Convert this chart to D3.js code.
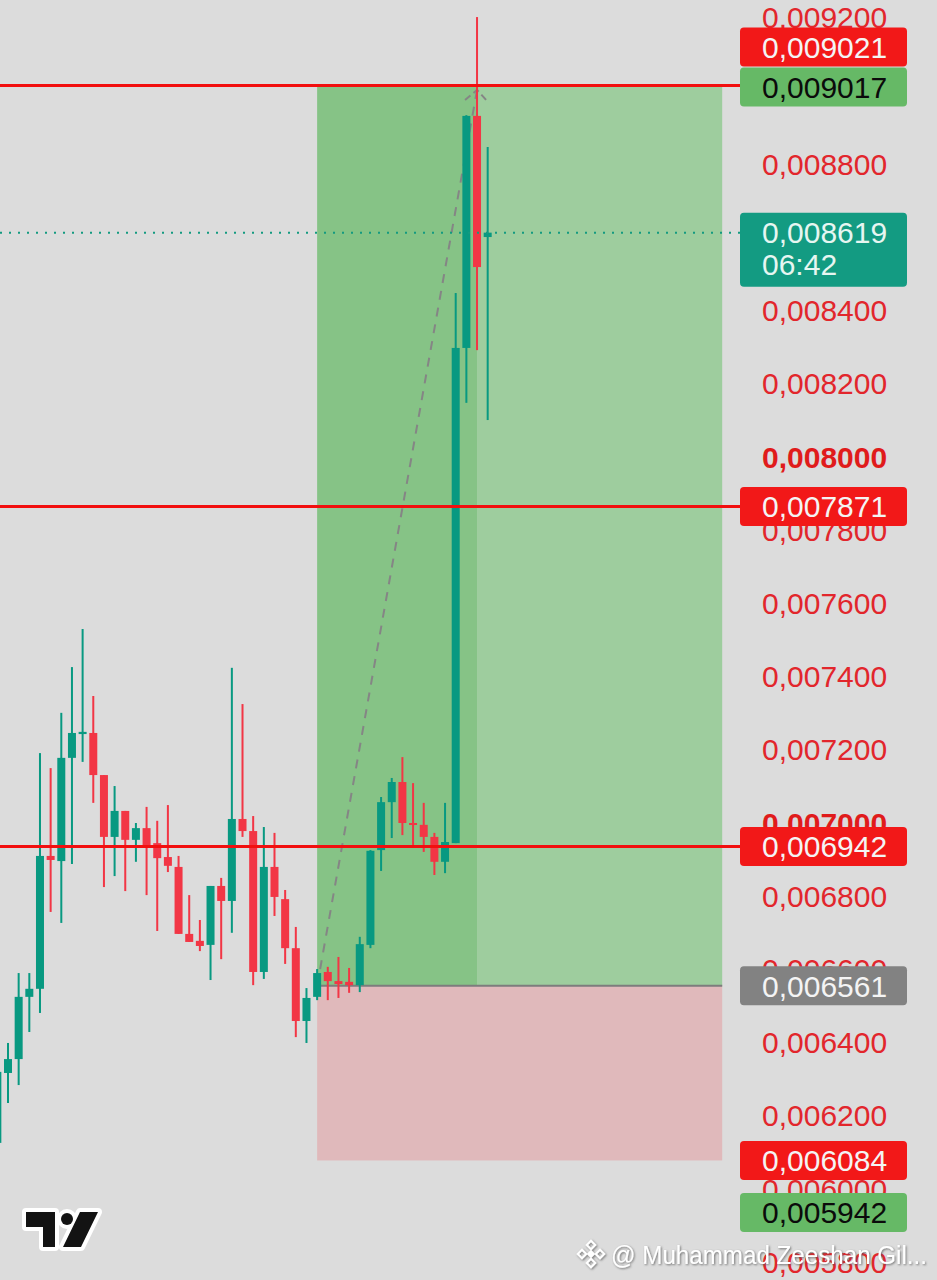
<!DOCTYPE html>
<html>
<head>
<meta charset="utf-8">
<script src="https://cdn.jsdelivr.net/npm/d3@7"></script>
<style>
  body { margin: 0; background: #dcdcdc; }
  svg { display: block; font-family: "Liberation Sans", Arial, sans-serif; }
  .tick-label { fill: #e2262c; font-size: 30px; }
  .tick-label.bold { font-weight: bold; fill: #e01b1b; }
  .box-label { font-size: 30px; }
  .watermark { fill: #ffffff; font-size: 26px; }
</style>
</head>
<body>
<svg id="chart" width="937" height="1280"></svg>
<script>
// candles, oldest first (prices)
var opens  = [0.006132, 0.006323, 0.006361, 0.006531, 0.006553, 0.006916, 0.006902, 0.007184, 0.007249, 0.007252,
              0.007137, 0.006968, 0.007039, 0.006960, 0.006992, 0.006951, 0.006913, 0.006886, 0.006703, 0.006684,
              0.006673, 0.006834, 0.006793, 0.007017, 0.006984, 0.006599, 0.006886, 0.006798, 0.006664, 0.006465,
              0.006531, 0.006599, 0.006574, 0.006572, 0.006563, 0.006673, 0.006932, 0.007063, 0.007118, 0.007006,
              0.007001, 0.006968, 0.006900, 0.006951, 0.008304, 0.008938, 0.008607];
var highs  = [0.006345, 0.006405, 0.006596, 0.006596, 0.007197, 0.007156, 0.007307, 0.007432, 0.007536, 0.007353,
              0.007137, 0.007107, 0.007039, 0.007006, 0.007050, 0.007012, 0.007055, 0.006916, 0.006809, 0.006741,
              0.006834, 0.006856, 0.007430, 0.007331, 0.007025, 0.006995, 0.006979, 0.006823, 0.006722, 0.006555,
              0.006607, 0.006613, 0.006640, 0.006610, 0.006695, 0.006932, 0.007077, 0.007129, 0.007186, 0.007115,
              0.007061, 0.006979, 0.007061, 0.008454, 0.008940, 0.009208, 0.008853];
var lows   = [0.006121, 0.006241, 0.006290, 0.006435, 0.006487, 0.006763, 0.006733, 0.006894, 0.007173, 0.007061,
              0.006831, 0.006861, 0.006820, 0.006900, 0.006809, 0.006711, 0.006872, 0.006703, 0.006681, 0.006656,
              0.006577, 0.006634, 0.006706, 0.006968, 0.006563, 0.006580, 0.006752, 0.006621, 0.006421, 0.006405,
              0.006522, 0.006522, 0.006528, 0.006542, 0.006544, 0.006664, 0.006875, 0.006965, 0.006973, 0.006946,
              0.006927, 0.006864, 0.006869, 0.006951, 0.008154, 0.008298, 0.008107];
var closes = [0.006326, 0.006361, 0.006531, 0.006553, 0.006916, 0.006905, 0.007184, 0.007252, 0.007255, 0.007137,
              0.006968, 0.007039, 0.006960, 0.006992, 0.006940, 0.006910, 0.006889, 0.006703, 0.006681, 0.006670,
              0.006834, 0.006793, 0.007017, 0.006984, 0.006599, 0.006886, 0.006804, 0.006664, 0.006465, 0.006528,
              0.006596, 0.006574, 0.006566, 0.006563, 0.006675, 0.006930, 0.007063, 0.007118, 0.007006, 0.007001,
              0.006968, 0.006900, 0.006954, 0.008304, 0.008938, 0.008525, 0.008619];

var priceTicks = [0.0092, 0.0090, 0.0088, 0.0086, 0.0084, 0.0082, 0.0080, 0.0078, 0.0076,
                  0.0074, 0.0072, 0.0070, 0.0068, 0.0066, 0.0064, 0.0062, 0.0060, 0.0058];
var boldTicks = [0.0080, 0.0070];

// horizontal lines drawn on the chart
var levelLines = [0.009021, 0.007871, 0.006942];

// long position tool
var entryPrice = 0.006561;
var targetPrice = 0.009017;
var stopPrice = 0.006084;
var positionBars = [30, 45, 68];   // start bar, current bar, end bar

var lastPrice = 0.008619;
var countdown = "06:42";

var params = {
  "svg": { "width": 937, "height": 1280 },
  "plot": { "left": 0, "right": 740, "top": 20, "bottom": 1264.4 },
  "axis": { "x": 740, "boxWidth": 167, "boxHeight": 39, "textX": 762 },
  "candle": { "body": 8, "wick": 2 },
  "colors": {
    "up": "#089981", "down": "#f23645", "line": "#f20f0f",
    "zoneDark": "#86c386", "zoneLight": "#9ecd9e", "zoneStop": "#e0b9bb"
  }
};

var scale = {
  "x": d3.scaleLinear().domain([0, 68]).range([-2.66, 722.2]),
  "y": d3.scaleLinear().domain([0.0058, 0.0092]).range([params.plot.bottom, params.plot.top])
};

var fmt = function(v) { return d3.format(".6f")(v).replace(".", ","); };

var svg = d3.select("#chart");

svg.append("rect")
  .attr("width", params.svg.width)
  .attr("height", params.svg.height)
  .attr("fill", "#dcdcdc");

var plot = svg.append("g").attr("id", "plot");

// position zones
var x0 = scale.x(positionBars[0]), x1 = scale.x(positionBars[1]), x2 = scale.x(positionBars[2]);
plot.append("rect")
  .attr("x", x0).attr("y", scale.y(targetPrice))
  .attr("width", x1 - x0).attr("height", scale.y(entryPrice) - scale.y(targetPrice))
  .attr("fill", params.colors.zoneDark);
plot.append("rect")
  .attr("x", x1).attr("y", scale.y(targetPrice))
  .attr("width", x2 - x1).attr("height", scale.y(entryPrice) - scale.y(targetPrice))
  .attr("fill", params.colors.zoneLight);
plot.append("rect")
  .attr("x", x0).attr("y", scale.y(entryPrice))
  .attr("width", x2 - x0).attr("height", scale.y(stopPrice) - scale.y(entryPrice))
  .attr("fill", params.colors.zoneStop);
plot.append("line")
  .attr("x1", x0).attr("x2", x2)
  .attr("y1", scale.y(entryPrice)).attr("y2", scale.y(entryPrice))
  .attr("stroke", "#7d7d7d").attr("stroke-width", 2);

// dashed path of the trade with arrow head
var ax = x1, ay = scale.y(targetPrice) + 3;
plot.append("line")
  .attr("x1", x0).attr("y1", scale.y(entryPrice))
  .attr("x2", ax).attr("y2", ay)
  .attr("stroke", "#858585").attr("stroke-width", 2)
  .attr("stroke-dasharray", "9 8");
plot.append("path")
  .attr("d", "M" + (ax - 12) + "," + (ay + 10) + "L" + ax + "," + ay + "L" + (ax + 11) + "," + (ay + 12))
  .attr("fill", "none")
  .attr("stroke", "#858585").attr("stroke-width", 2)
  .attr("stroke-dasharray", "7 4");

// candles
var candles = opens.map(function(o, i) {
  return { "i": i, "open": o, "high": highs[i], "low": lows[i], "close": closes[i] };
});

var bars = plot.selectAll("g.candle")
  .data(candles)
  .enter()
  .append("g")
  .attr("class", "candle");

bars.append("rect")
  .attr("x", function(d) { return scale.x(d.i) - params.candle.wick / 2; })
  .attr("y", function(d) { return scale.y(d.high); })
  .attr("width", params.candle.wick)
  .attr("height", function(d) { return scale.y(d.low) - scale.y(d.high); })
  .attr("fill", function(d) { return d.close >= d.open ? params.colors.up : params.colors.down; });

bars.append("rect")
  .attr("x", function(d) { return scale.x(d.i) - params.candle.body / 2; })
  .attr("y", function(d) { return scale.y(Math.max(d.open, d.close)); })
  .attr("width", params.candle.body)
  .attr("height", function(d) { return Math.max(2, Math.abs(scale.y(d.open) - scale.y(d.close))); })
  .attr("fill", function(d) { return d.close >= d.open ? params.colors.up : params.colors.down; });

// level lines
plot.selectAll("line.level")
  .data(levelLines)
  .enter()
  .append("line")
  .attr("class", "level")
  .attr("x1", params.plot.left).attr("x2", params.plot.right)
  .attr("y1", function(d) { return scale.y(d); })
  .attr("y2", function(d) { return scale.y(d); })
  .attr("stroke", params.colors.line)
  .attr("stroke-width", 3);

// last price dotted line
plot.append("line")
  .attr("x1", params.plot.left).attr("x2", params.plot.right)
  .attr("y1", scale.y(lastPrice)).attr("y2", scale.y(lastPrice))
  .attr("stroke", "#139a80").attr("stroke-width", 2)
  .attr("stroke-dasharray", "2 7");

// price axis tick labels
var axisG = svg.append("g").attr("id", "price-axis");
axisG.selectAll("text.tick-label")
  .data(priceTicks)
  .enter()
  .append("text")
  .attr("class", function(d) {
    return boldTicks.some(function(b) { return Math.abs(b - d) < 1e-9; }) ? "tick-label bold" : "tick-label";
  })
  .attr("x", params.axis.textX)
  .attr("y", function(d) { return scale.y(d); })
  .attr("dy", "0.28em")
  .text(fmt);

// axis boxes, placed in priority order; a box that would overlap is pushed up
var boxes = [
  { "price": targetPrice, "fill": "#66b966", "text": "#0b0b0b" },
  { "price": levelLines[0], "fill": "#f21818", "text": "#f4f4f4" },
  { "price": levelLines[1], "fill": "#f21818", "text": "#f4f4f4" },
  { "price": levelLines[2], "fill": "#f21818", "text": "#f4f4f4" },
  { "price": entryPrice, "fill": "#828282", "text": "#f4f4f4" },
  { "price": stopPrice, "fill": "#f21818", "text": "#f4f4f4" },
  { "price": 0.005942, "fill": "#66b966", "text": "#0b0b0b" }
];
var placed = [];
boxes.forEach(function(b) {
  var cy = scale.y(b.price);
  placed.forEach(function(p) {
    if (Math.abs(p.cy - cy) < params.axis.boxHeight) cy = p.cy - params.axis.boxHeight - 1;
  });
  b.cy = cy;
  placed.push(b);
});

var boxG = axisG.selectAll("g.box")
  .data(boxes)
  .enter()
  .append("g")
  .attr("class", "box")
  .attr("transform", function(d) { return "translate(" + params.axis.x + "," + d.cy + ")"; });

boxG.append("rect")
  .attr("x", 0).attr("y", -params.axis.boxHeight / 2)
  .attr("width", params.axis.boxWidth).attr("height", params.axis.boxHeight)
  .attr("rx", 4)
  .attr("fill", function(d) { return d.fill; });

boxG.append("text")
  .attr("class", "box-label")
  .attr("x", params.axis.textX - params.axis.x)
  .attr("dy", "0.36em")
  .attr("fill", function(d) { return d.text; })
  .text(function(d) { return fmt(d.price); });

// last price box with countdown
var lp = axisG.append("g")
  .attr("transform", "translate(" + params.axis.x + "," + scale.y(lastPrice) + ")");
lp.append("rect")
  .attr("x", 0).attr("y", -20)
  .attr("width", params.axis.boxWidth).attr("height", 74)
  .attr("rx", 4)
  .attr("fill", "#139b82");
lp.append("text")
  .attr("class", "box-label")
  .attr("x", params.axis.textX - params.axis.x)
  .attr("dy", "0.36em")
  .attr("fill", "#e6f6f1")
  .text(fmt(lastPrice));
lp.append("text")
  .attr("class", "box-label")
  .attr("x", params.axis.textX - params.axis.x)
  .attr("y", 32)
  .attr("dy", "0.36em")
  .attr("fill", "#e6f6f1")
  .text(countdown);

// TradingView logo
var logo = svg.append("g").attr("transform", "translate(26,1212)");
var logoPath = "M0,0H29V35H17V15H0Z M54,0H72L55,35H37Z";
logo.append("path").attr("d", logoPath)
  .attr("fill", "#fff").attr("stroke", "#fff").attr("stroke-width", 8).attr("stroke-linejoin", "round");
logo.append("circle").attr("cx", 41).attr("cy", 7).attr("r", 6)
  .attr("fill", "#fff").attr("stroke", "#fff").attr("stroke-width", 8);
logo.append("path").attr("d", logoPath).attr("fill", "#131313");
logo.append("circle").attr("cx", 41).attr("cy", 7).attr("r", 6).attr("fill", "#131313");

// watermark
var defs = svg.append("defs");
var f = defs.append("filter").attr("id", "shadow");
f.append("feDropShadow").attr("dx", 1).attr("dy", 1).attr("stdDeviation", 1.2)
  .attr("flood-color", "#555").attr("flood-opacity", 0.8);

var wm = svg.append("g").attr("filter", "url(#shadow)");
var icon = wm.append("g").attr("transform", "translate(591,1254)");
[[0, -9], [-9, 0], [9, 0], [0, 9]].forEach(function(p) {
  icon.append("rect")
    .attr("x", p[0] - 3).attr("y", p[1] - 3).attr("width", 6).attr("height", 6)
    .attr("transform", "rotate(45," + p[0] + "," + p[1] + ")")
    .attr("fill", "none").attr("stroke", "#fff").attr("stroke-width", 2);
});
icon.append("rect")
  .attr("x", -3).attr("y", -3).attr("width", 6).attr("height", 6)
  .attr("transform", "rotate(45)")
  .attr("fill", "#fff");
wm.append("text")
  .attr("class", "watermark")
  .attr("x", 611)
  .attr("y", 1264)
  .attr("textLength", 316)
  .attr("lengthAdjust", "spacingAndGlyphs")
  .text("@ Muhammad Zeeshan Gil...");
</script>
</body>
</html>
